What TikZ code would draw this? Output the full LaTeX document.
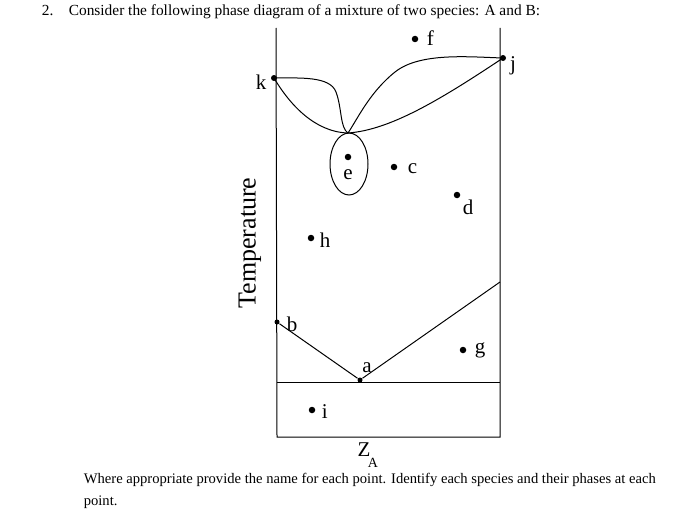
\documentclass[tikz,border=0pt]{standalone}
\usepackage{fontspec}
\usetikzlibrary{shapes.geometric}
\setmainfont{Liberation Serif}
\begin{document}
\begin{tikzpicture}[x=1pt,y=-1pt,line width=1pt,
  dot/.style={circle,fill=black,inner sep=0pt,minimum size=6.5pt},
  lbl/.style={font=\fontsize{21}{23}\selectfont}]
\useasboundingbox (0,0) rectangle (700,511);
\node[anchor=west,font=\fontsize{15.4}{17}\selectfont] (title) at (38,12) {2.\quad Consider the following phase diagram of a mixture of two species: A and B:};
% axes
\coordinate (lt) at (276,28); \coordinate (lb) at (277,437);
\coordinate (rt) at (500,28); \coordinate (rb) at (500,437);
\draw (lt) -- (lb) -- (rb) -- (rt);
\coordinate (eL) at (277,382); \coordinate (eR) at (500,382);
\draw (eL) -- (eR);
\node[dot,minimum size=5pt] (b) at (277,322) {};
\node[dot,minimum size=5pt] (a) at (360,380) {};
\coordinate (gr) at (500,282);
\draw (b) -- (a) -- (gr);
\node[dot,minimum size=6pt] (k) at (274,78) {};
\node[dot,minimum size=6pt] (j) at (503,58) {};
\node[draw,ellipse,minimum width=38pt,minimum height=62pt,inner sep=0pt] (ell) at (349,164) {};
\coordinate (et) at (348,133);
% curves
\draw (k.center) .. controls (300,78) and (330,76) .. (336,92) .. controls (342,108) and (340,128) .. (et);
\draw (k.center) .. controls (290,105) and (315,132) .. (et);
\draw (j.center) .. controls (470,57) and (420,52) .. (395,72) .. controls (370,92) and (358,118) .. (et);
\draw (j.center) .. controls (440,100) and (390,130) .. (et);
% points
\node[dot] (e) at (348,157) {}; \node[lbl] at (348,175) {e};
\node[dot] (f) at (415,39) {}; \node[lbl,anchor=west] at (423,38) {f};
\node[dot] (c) at (394,167) {}; \node[lbl,anchor=west] at (404,169) {c};
\node[dot] (d) at (457,195) {}; \node[lbl,anchor=west] at (459,207) {d};
\node[dot] (h) at (311,238) {}; \node[lbl,anchor=west] at (316,240) {h};
\node[dot] (g) at (463,350) {}; \node[lbl,anchor=west] at (471,350) {g};
\node[dot] (i) at (312,410) {}; \node[lbl,anchor=west] at (318,412) {i};
\node[lbl] at (261,82) {k};
\node[lbl] at (513,66) {j};
\node[lbl] at (292,324) {b};
\node[lbl] at (367,368) {a};
\node[font=\fontsize{26}{28}\selectfont,rotate=90] (T) at (250,243) {Temperature};
\node[lbl] (Z) at (364,450) {Z}; \node[font=\fontsize{14}{16}\selectfont] at (373,463) {A};
\node[anchor=west,font=\fontsize{14.6}{16}\selectfont] at (80,480) {Where appropriate provide the name for each point. Identify each species and their phases at each};
\node[anchor=west,font=\fontsize{14.6}{16}\selectfont] at (80,502) {point.};
\end{tikzpicture}
\end{document}
